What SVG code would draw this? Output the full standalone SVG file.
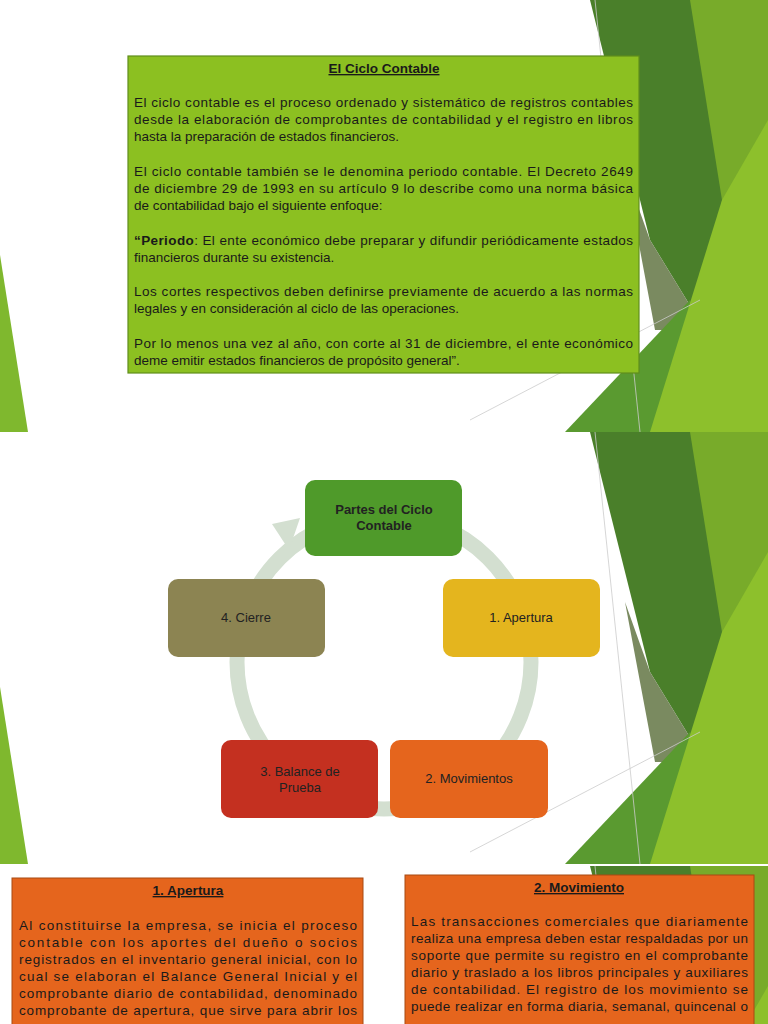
<svg xmlns="http://www.w3.org/2000/svg" width="768" height="1024" viewBox="0 0 768 1024">
<style>
.t{font-family:"Liberation Sans",Arial,sans-serif;font-size:13.5px;fill:#1a1a1a}
.n{font-family:"Liberation Sans",Arial,sans-serif;font-size:13px;fill:#222;text-anchor:middle}
.b{font-weight:bold}
.u{text-decoration:underline;font-weight:bold}
</style>
<rect width="768" height="1024" fill="#fff"/>
<defs>
<g id="deco">
<polygon points="690,0 768,0 768,432 690,432" fill="#78ab2a"/>
<polygon points="590,0 690,0 722,200 705,330 650,240" fill="#4a7f2a"/>
<polygon points="625,170 650,240 705,330 655,330" fill="#7a8a60"/>
<polygon points="565,432 690,300 705,330 700,432" fill="#5a9a30"/>
<polygon points="650,432 722,200 768,120 768,432" fill="#8dc02c"/>
<line x1="470" y1="420" x2="700" y2="300" stroke="#ccc" stroke-width="0.8"/>
<line x1="595" y1="0" x2="640" y2="432" stroke="#ccc" stroke-width="0.8"/>
<polygon points="0,255 28,432 0,432" fill="#7fb82e"/>
</g>
</defs>
<use href="#deco"/>
<use href="#deco" y="432"/>
<use href="#deco" y="866"/>
<g id="intro">
<rect x="128" y="56" width="511" height="317" fill="#8cc021" stroke="#5f8e1c" stroke-width="1.2"/>
<text class="t u" x="384" y="73" text-anchor="middle">El Ciclo Contable</text>
<text class="t" x="134" y="107" textLength="499" lengthAdjust="spacing">El ciclo contable es el proceso ordenado y sistemático de registros contables</text>
<text class="t" x="134" y="124" textLength="499" lengthAdjust="spacing">desde la elaboración de comprobantes de contabilidad y el registro en libros</text>
<text class="t" x="134" y="141">hasta la preparación de estados financieros.</text>
<text class="t" x="134" y="176" textLength="499" lengthAdjust="spacing">El ciclo contable también se le denomina periodo contable. El Decreto 2649</text>
<text class="t" x="134" y="193" textLength="499" lengthAdjust="spacing">de diciembre 29 de 1993 en su artículo 9 lo describe como una norma básica</text>
<text class="t" x="134" y="210">de contabilidad bajo el siguiente enfoque:</text>
<text class="t" x="134" y="245" textLength="499" lengthAdjust="spacing"><tspan class="b">“Periodo</tspan>: El ente económico debe preparar y difundir periódicamente estados</text>
<text class="t" x="134" y="262">financieros durante su existencia.</text>
<text class="t" x="134" y="296" textLength="499" lengthAdjust="spacing">Los cortes respectivos deben definirse previamente de acuerdo a las normas</text>
<text class="t" x="134" y="313">legales y en consideración al ciclo de las operaciones.</text>
<text class="t" x="134" y="348" textLength="499" lengthAdjust="spacing">Por lo menos una vez al año, con corte al 31 de diciembre, el ente económico</text>
<text class="t" x="134" y="365">deme emitir estados financieros de propósito general”.</text>
</g>
<g id="connectors">
<circle cx="384" cy="662" r="147" fill="none" stroke="#d3dfd0" stroke-width="15"/>
<polygon points="300,518 272,524 289,550" fill="#d3dfd0"/>
</g>
<g id="partes"><rect x="305" y="480" width="157" height="76" rx="10" fill="#4f9a2a"/><text class="n b" x="384" y="514" fill="#111">Partes del Ciclo</text><text class="n b" x="384" y="530">Contable</text></g>
<g id="apertura"><rect x="443" y="579" width="157" height="78" rx="10" fill="#e4b51e"/><text class="n" x="521" y="622">1. Apertura</text></g>
<g id="movimientos"><rect x="390" y="740" width="158" height="78" rx="10" fill="#e5651d"/><text class="n" x="469" y="783">2. Movimientos</text></g>
<g id="balance"><rect x="221" y="740" width="157" height="78" rx="10" fill="#c43020"/><text class="n" x="300" y="776">3. Balance de</text><text class="n" x="300" y="792">Prueba</text></g>
<g id="cierre"><rect x="168" y="579" width="157" height="78" rx="10" fill="#8c8452"/><text class="n" x="246" y="622">4. Cierre</text></g>
<g id="box1">
<rect x="12" y="878" width="351" height="160" fill="#e5651d" stroke="#a84a12" stroke-width="1"/>
<text class="t u" x="188" y="895" text-anchor="middle">1. Apertura</text>
<text class="t" x="19" y="930" textLength="338" lengthAdjust="spacing">Al constituirse la empresa, se inicia el proceso</text>
<text class="t" x="19" y="947" textLength="338" lengthAdjust="spacing">contable con los aportes del dueño o socios</text>
<text class="t" x="19" y="964" textLength="338" lengthAdjust="spacing">registrados en el inventario general inicial, con lo</text>
<text class="t" x="19" y="981" textLength="338" lengthAdjust="spacing">cual se elaboran el Balance General Inicial y el</text>
<text class="t" x="19" y="998" textLength="338" lengthAdjust="spacing">comprobante diario de contabilidad, denominado</text>
<text class="t" x="19" y="1015" textLength="338" lengthAdjust="spacing">comprobante de apertura, que sirve para abrir los</text>
</g>
<g id="box2">
<rect x="405" y="875" width="349" height="160" fill="#e5651d" stroke="#a84a12" stroke-width="1"/>
<text class="t u" x="579" y="892" text-anchor="middle">2. Movimiento</text>
<text class="t" x="411" y="926" textLength="337" lengthAdjust="spacing">Las transacciones comerciales que diariamente</text>
<text class="t" x="411" y="943" textLength="337" lengthAdjust="spacing">realiza una empresa deben estar respaldadas por un</text>
<text class="t" x="411" y="960" textLength="337" lengthAdjust="spacing">soporte que permite su registro en el comprobante</text>
<text class="t" x="411" y="977" textLength="337" lengthAdjust="spacing">diario y traslado a los libros principales y auxiliares</text>
<text class="t" x="411" y="994" textLength="337" lengthAdjust="spacing">de contabilidad. El registro de los movimiento se</text>
<text class="t" x="411" y="1011" textLength="337" lengthAdjust="spacing">puede realizar en forma diaria, semanal, quincenal o</text>
</g>
</svg>
